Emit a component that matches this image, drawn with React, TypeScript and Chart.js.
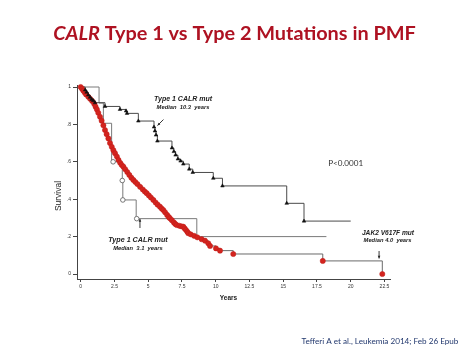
import React, { useEffect, useRef } from 'react';
import { Chart, registerables } from 'chart.js';

Chart.register(...registerables);

// Axis ticks
const xTicks = [0, 2.5, 5, 7.5, 10, 12.5, 15, 17.5, 20, 22.5];
const yTicks = [0, 0.2, 0.4, 0.6, 0.8, 1];

// Upper curve (black line, triangle marks) – "Type 1 CALR mut, median 10.3 years"
const upperTimes = [0, 0.33, 0.44, 0.56, 0.69, 0.81, 0.93, 1.06, 1.8, 2.91, 3.36, 3.43, 4.27, 5.43, 5.5, 5.58, 5.68, 6.76, 6.9, 7.03, 7.2, 7.4, 7.6, 8.04, 8.3, 9.82, 10.5, 15.26, 16.54, 20.0];
const upperSurv = [1, 0.984, 0.972, 0.957, 0.945, 0.934, 0.927, 0.916, 0.896, 0.88, 0.872, 0.859, 0.818, 0.786, 0.765, 0.743, 0.711, 0.674, 0.655, 0.636, 0.615, 0.604, 0.588, 0.561, 0.543, 0.512, 0.471, 0.378, 0.283, 0.283];

// Gray curve (open circles) – "Type 1 CALR mut, median 3.1 years"
const grayTimes = [0, 1.36, 1.68, 2.29, 3.08, 3.12, 4.11, 8.6, 18.2];
const graySurv = [1, 0.914, 0.806, 0.6, 0.5, 0.396, 0.296, 0.2, 0.2];
const grayCensorTimes = [2.4, 3.08, 3.12, 4.15];
const grayCensorSurv = [0.6, 0.5, 0.396, 0.296];

// Red curve (JAK2 V617F mut, median 4.0 years)
const redTimes = [0, 0.1, 0.2, 0.3, 0.4, 0.56, 0.7, 0.85, 1.0, 1.1, 1.2, 1.3, 1.43, 1.55, 1.68, 1.8, 1.92, 2.05, 2.17, 2.3, 2.42, 2.54, 2.68, 2.8, 2.92, 3.04, 3.16, 3.3, 3.45, 3.6, 3.75, 3.9, 4.05, 4.2, 4.4, 4.6, 4.75, 4.89, 5.05, 5.2, 5.38, 5.55, 5.7, 5.87, 6.0, 6.12, 6.25, 6.4, 6.52, 6.61, 6.75, 6.9, 7.0, 7.11, 7.3, 7.45, 7.6, 7.7, 7.8, 7.9, 7.97, 8.15, 8.4, 8.64, 8.96, 9.21, 9.45, 9.58, 10.02, 10.32, 11.3, 17.93, 22.34];
const redSurv = [1, 0.99, 0.98, 0.97, 0.96, 0.948, 0.937, 0.925, 0.91, 0.895, 0.88, 0.862, 0.841, 0.82, 0.795, 0.77, 0.748, 0.725, 0.7, 0.68, 0.662, 0.646, 0.628, 0.61, 0.595, 0.583, 0.574, 0.56, 0.545, 0.53, 0.515, 0.503, 0.492, 0.481, 0.466, 0.452, 0.441, 0.432, 0.42, 0.409, 0.396, 0.382, 0.371, 0.36, 0.35, 0.342, 0.33, 0.316, 0.305, 0.298, 0.288, 0.276, 0.268, 0.262, 0.258, 0.255, 0.253, 0.244, 0.235, 0.226, 0.218, 0.212, 0.204, 0.196, 0.186, 0.178, 0.164, 0.15, 0.137, 0.125, 0.107, 0.07, 0];

const pts = (ts: number[], ss: number[]) => ts.map((t, i) => ({ x: t, y: ss[i] }));

const fmtY = (v: number) => (v === 0 ? '0' : v === 1 ? '1' : String(v).replace(/^0/, ''));

function fitSize(ctx: CanvasRenderingContext2D, text: string, style: string, family: string, target: number) {
  ctx.font = `${style} 10px ${family}`;
  const w = ctx.measureText(text).width;
  return (10 * target) / w;
}

function arrow(ctx: CanvasRenderingContext2D, x1: number, y1: number, x2: number, y2: number) {
  ctx.save();
  ctx.strokeStyle = '#222';
  ctx.fillStyle = '#222';
  ctx.lineWidth = 0.9;
  ctx.beginPath();
  ctx.moveTo(x1, y1);
  ctx.lineTo(x2, y2);
  ctx.stroke();
  const a = Math.atan2(y2 - y1, x2 - x1);
  const h = 3;
  ctx.beginPath();
  ctx.moveTo(x2, y2);
  ctx.lineTo(x2 - h * Math.cos(a - 0.45), y2 - h * Math.sin(a - 0.45));
  ctx.lineTo(x2 - h * Math.cos(a + 0.45), y2 - h * Math.sin(a + 0.45));
  ctx.closePath();
  ctx.fill();
  ctx.restore();
}

const textPlugin = {
  id: 'textPlugin',
  afterDraw(chart: any) {
    const { ctx, scales } = chart;
    const x = scales.x;
    const y = scales.y;
    const P = (t: number, s: number) => [x.getPixelForValue(t), y.getPixelForValue(s)];
    ctx.save();

    // Title
    const fam = 'Lato, "Open Sans", sans-serif';
    const part1 = 'CALR';
    const part2 = ' Type 1 vs Type 2 Mutations in PMF';
    ctx.font = `italic bold 10px ${fam}`;
    const w1 = ctx.measureText(part1).width;
    ctx.font = `bold 10px ${fam}`;
    const w2 = ctx.measureText(part2).width;
    const size = (10 * 363) / (w1 + w2);
    ctx.fillStyle = '#AE1222';
    ctx.textBaseline = 'alphabetic';
    ctx.textAlign = 'left';
    ctx.font = `italic bold ${size}px ${fam}`;
    const a1 = ctx.measureText(part1).width;
    ctx.font = `bold ${size}px ${fam}`;
    const a2 = ctx.measureText(part2).width;
    const sx = 234.5 - (a1 + a2) / 2;
    ctx.font = `italic bold ${size}px ${fam}`;
    ctx.fillText(part1, sx, 39.5);
    ctx.font = `bold ${size}px ${fam}`;
    ctx.fillText(part2, sx + a1, 39.5);

    // Footer
    const foot = 'Tefferi A et al., Leukemia 2014; Feb 26 Epub';
    const fs = fitSize(ctx, foot, '', fam, 157);
    ctx.font = `${fs}px ${fam}`;
    ctx.fillStyle = '#22386E';
    ctx.textAlign = 'center';
    ctx.fillText(foot, 380, 343.5);

    // P value
    const pv = 'P<0.0001';
    const ps = fitSize(ctx, pv, '', fam, 35);
    ctx.font = `${ps}px ${fam}`;
    ctx.fillStyle = '#333';
    ctx.textAlign = 'left';
    ctx.textBaseline = 'middle';
    const [px, py] = P(18.33, 0.594);
    ctx.fillText(pv, px, py);

    // Axis titles
    ctx.fillStyle = '#222';
    ctx.textAlign = 'center';
    ctx.font = 'bold 6.5px "Liberation Sans", Arial, sans-serif';
    ctx.fillText('Years', (x.left + x.right) / 2 - 5, 298);
    ctx.save();
    ctx.translate(59, 196);
    ctx.rotate(-Math.PI / 2);
    ctx.font = '8.5px "Liberation Sans", Arial, sans-serif';
    ctx.fillText('Survival', 0, 0);
    ctx.restore();

    // Curve labels
    const lab = (t: number, s: number, txt: string, sz: number) => {
      const [lx, ly] = P(t, s);
      ctx.font = `italic bold ${sz}px "Liberation Sans", Arial, sans-serif`;
      ctx.fillText(txt, lx, ly);
    };
    lab(7.58, 0.936, 'Type 1 CALR mut', 7);
    lab(7.58, 0.893, 'Median  10.3  years', 5.8);
    lab(4.24, 0.182, 'Type 1 CALR mut', 7.2);
    lab(4.24, 0.139, 'Median  3.1  years', 5.8);
    lab(22.76, 0.219, 'JAK2 V617F mut', 6.6);
    lab(22.73, 0.182, 'Median 4.0  years', 5.8);

    // Arrows
    const ar = (t1: number, s1: number, t2: number, s2: number) => {
      const [x1, y1] = P(t1, s1);
      const [x2, y2] = P(t2, s2);
      arrow(ctx, x1, y1, x2, y2);
    };
    ar(6.13, 0.826, 5.69, 0.794);
    ar(4.39, 0.246, 4.39, 0.294);
    ar(22.1, 0.123, 22.1, 0.083);

    ctx.restore();
  },
};

export default function App() {
  const ref = useRef<HTMLCanvasElement>(null);
  useEffect(() => {
    const lineBase = { showLine: true, stepped: true, fill: false, pointRadius: 0, clip: false as any };
    const chart = new Chart(ref.current!, {
      type: 'scatter',
      data: {
        datasets: [
          {
            ...lineBase,
            label: 'JAK2 V617F mut',
            data: pts(redTimes, redSurv),
            borderColor: '#6a6a6a',
            borderWidth: 1,
            pointRadius: 2.6,
            pointBackgroundColor: '#D3241E',
            pointBorderColor: '#C01A18',
            pointBorderWidth: 0.5,
            order: 1,
          } as any,
          {
            ...lineBase,
            label: 'Upper',
            data: pts(upperTimes, upperSurv),
            borderColor: '#4a4a4a',
            borderWidth: 1,
            order: 3,
          },
          {
            label: 'Upper marks',
            data: pts(upperTimes.slice(1, -1), upperSurv.slice(1, -1)),
            showLine: false,
            pointStyle: 'triangle',
            pointRadius: 2.1,
            pointBackgroundColor: '#111',
            pointBorderColor: '#111',
            pointBorderWidth: 0.5,
            order: 0,
            clip: false as any,
          },
          {
            ...lineBase,
            label: 'Gray',
            data: pts(grayTimes, graySurv),
            borderColor: '#7a7a7a',
            borderWidth: 1,
            order: 4,
          },
          {
            label: 'Gray marks',
            data: pts(grayCensorTimes, grayCensorSurv),
            showLine: false,
            pointStyle: 'circle',
            pointRadius: 2.3,
            pointBackgroundColor: '#fff',
            pointBorderColor: '#6a6a6a',
            pointBorderWidth: 0.9,
            order: 2,
            clip: false as any,
          },
        ],
      },
      options: {
        animation: false,
        responsive: true,
        maintainAspectRatio: false,
        events: [],
        layout: { padding: { left: 40, right: 84, top: 85, bottom: 46 } },
        plugins: { legend: { display: false }, tooltip: { enabled: false }, title: { display: false } },
        scales: {
          x: {
            type: 'linear',
            min: -0.274,
            max: 22.91,
            afterBuildTicks: (s: any) => {
              s.ticks = xTicks.map((v) => ({ value: v }));
            },
            afterFit: (s: any) => {
              s.height = 30;
            },
            border: { display: true, color: '#444', width: 1 },
            grid: { drawOnChartArea: false, drawTicks: true, tickLength: 3, color: '#444' },
            ticks: {
              autoSkip: false,
              maxRotation: 0,
              padding: 2,
              color: '#333',
              font: { size: 5, family: '"Liberation Sans", Arial, sans-serif' },
              callback: (v: any) => String(v),
            },
          },
          y: {
            type: 'linear',
            min: -0.0267,
            max: 1.0107,
            afterBuildTicks: (s: any) => {
              s.ticks = yTicks.map((v) => ({ value: v }));
            },
            afterFit: (s: any) => {
              s.width = 37;
            },
            border: { display: true, color: '#444', width: 1 },
            grid: { drawOnChartArea: false, drawTicks: true, tickLength: 4, color: '#444' },
            ticks: {
              padding: 2,
              color: '#333',
              font: { size: 5, family: '"Liberation Sans", Arial, sans-serif' },
              callback: (v: any) => fmtY(Number(v)),
            },
          },
        },
      } as any,
      plugins: [textPlugin],
    });
    return () => chart.destroy();
  }, []);
  return (
    <div style={{ position: 'fixed', left: 0, top: 0, width: 474, height: 355, background: '#fff' }}>
      <canvas ref={ref} />
    </div>
  );
}
